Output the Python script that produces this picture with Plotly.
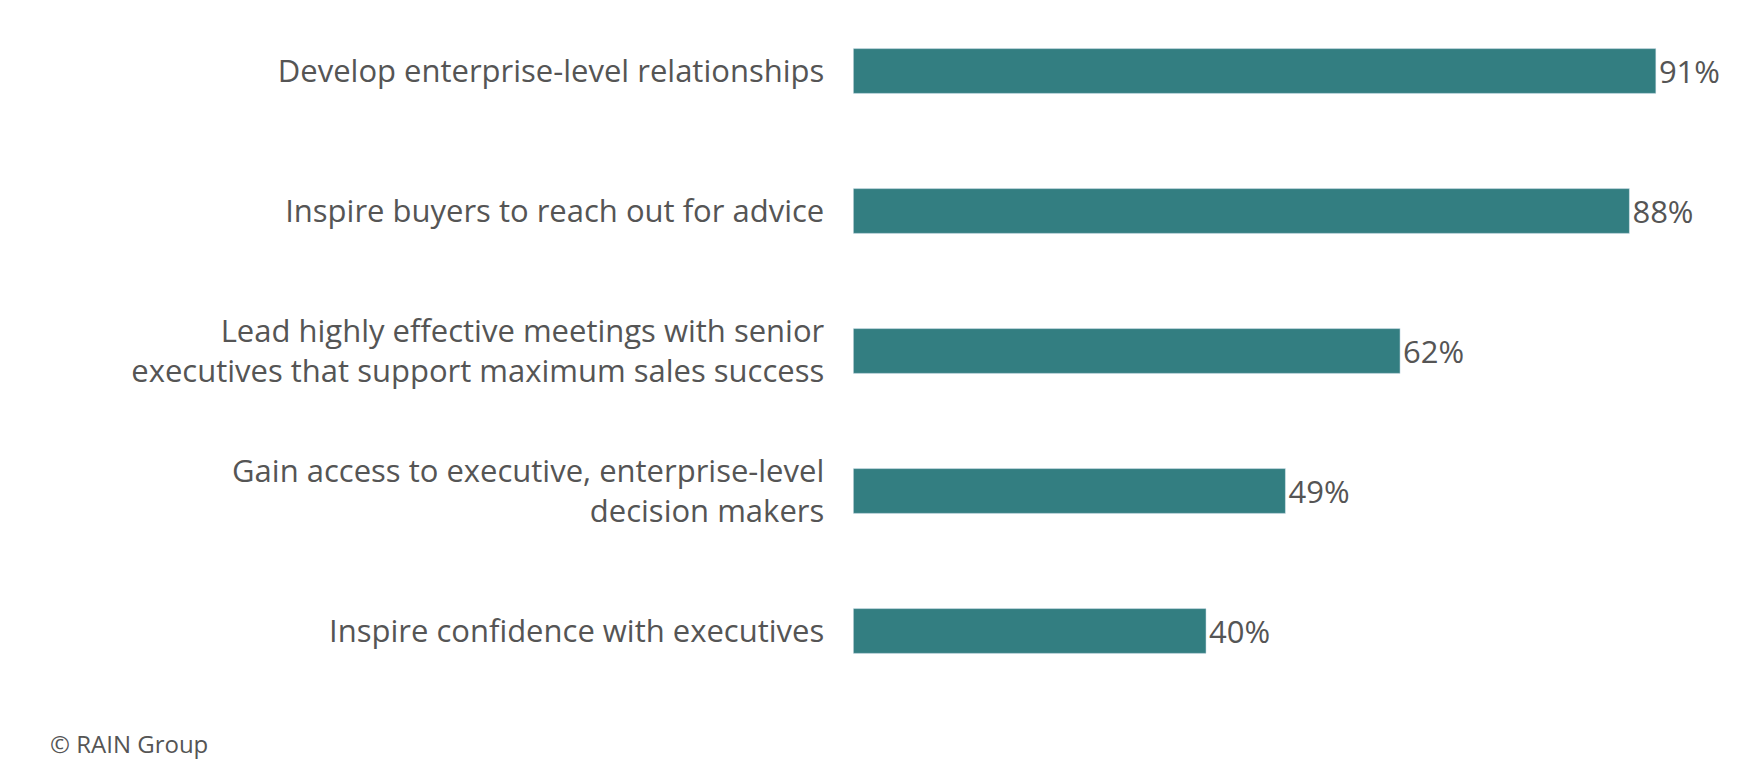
import plotly.graph_objects as go

categories = [
    "Develop enterprise-level relationships",
    "Inspire buyers to reach out for advice",
    "Lead highly effective meetings with senior<br>executives that support maximum sales success",
    "Gain access to executive, enterprise-level<br>decision makers",
    "Inspire confidence with executives",
]
values = [91, 88, 62, 49, 40]
value_labels = [f"{v}%" for v in values]

fig = go.Figure(go.Bar(
    x=values, y=categories, orientation="h",
    marker_color="#337e81", width=0.32,
    text=value_labels, textposition="outside", cliponaxis=False,
    textfont=dict(size=31, color="#555555"),
))

fig.update_xaxes(range=[0, 100], domain=[0.483, 0.987], visible=False)
fig.update_yaxes(
    range=[5.143, -0.45], ticks="", showline=False, showgrid=False,
    tickfont=dict(size=31, color="#555555"), ticklabelstandoff=28,
)

fig.add_annotation(
    text="© RAIN Group", xref="paper", yref="paper", x=0.023, y=0.061,
    xanchor="left", yanchor="middle", showarrow=False,
    font=dict(size=24, color="#555555"),
)

fig.update_layout(
    width=1750, height=783,
    margin=dict(l=0, r=0, t=0, b=0),
    paper_bgcolor="white", plot_bgcolor="white",
    font=dict(family="Open Sans"),
    showlegend=False,
)

fig.write_html("out.html")
